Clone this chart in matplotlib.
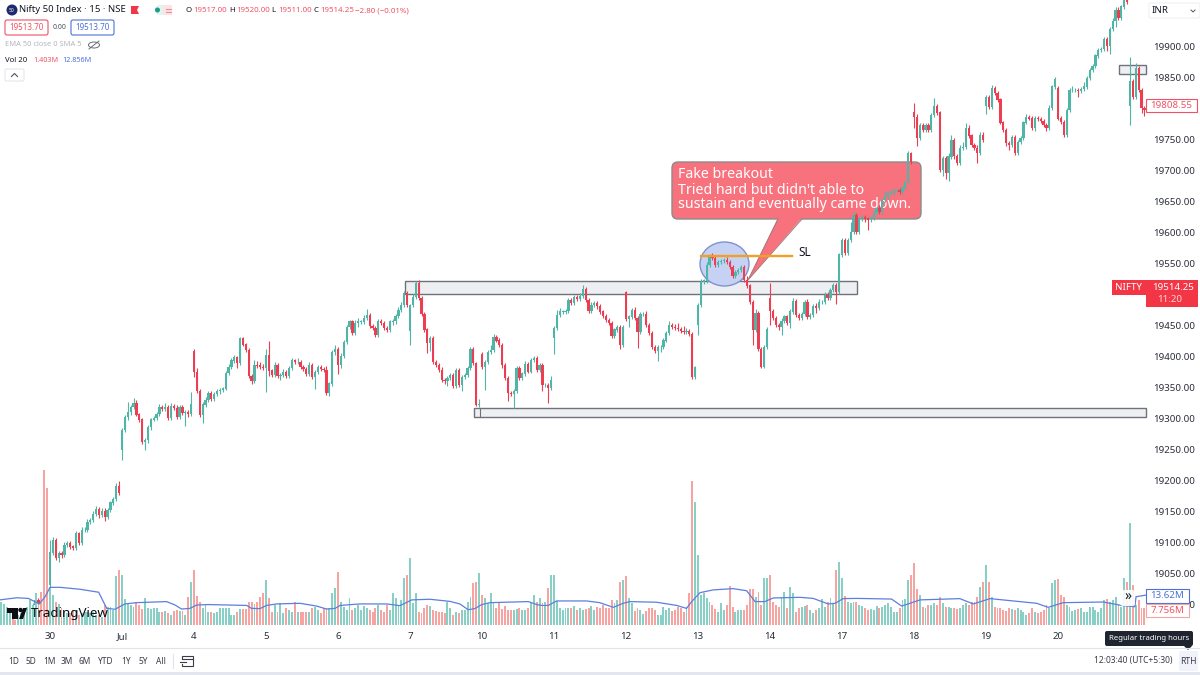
import numpy as np
import matplotlib
matplotlib.use("Agg")
import matplotlib.pyplot as plt
from matplotlib.patches import Rectangle, FancyBboxPatch, Ellipse, Polygon, Circle

plt.rcParams['font.family'] = ['Noto Sans', 'DejaVu Sans']

# 15 min bars, one line per session
closes = [
    18976, 18989, 19000, 19008, 19003, 18995, 18989, 18976,
    19085, 19105, 19076, 19084, 19081, 19097, 19100, 19094, 19092, 19115, 19100, 19121, 19121, 19134, 19137, 19147, 19155, 19145, 19152, 19142, 19153, 19165, 19171, 19192, 19181,
    19282, 19303, 19311, 19319, 19326, 19307, 19299, 19263, 19266, 19287, 19299, 19302, 19308, 19319, 19316, 19319, 19302, 19321, 19318, 19303, 19319, 19310, 19311, 19308, 19323,
    19376, 19345, 19307, 19323, 19331, 19342, 19332, 19340, 19345, 19347, 19349, 19374, 19384, 19394, 19399, 19390, 19431, 19420, 19411, 19369, 19361, 19387, 19386, 19384, 19382,
    19403, 19378, 19371, 19387, 19369, 19371, 19376, 19369, 19382, 19394, 19392, 19392, 19384, 19381, 19373, 19387, 19368, 19376, 19384, 19381, 19379, 19342, 19357, 19408, 19413,
    19387, 19402, 19424, 19448, 19457, 19439, 19455, 19457, 19457, 19463, 19468, 19450, 19447, 19436, 19458, 19455, 19447, 19444, 19457, 19458, 19466, 19476, 19484, 19503, 19484,
    19484, 19497, 19519, 19495, 19469, 19444, 19423, 19431, 19392, 19387, 19379, 19363, 19361, 19366, 19371, 19353, 19379, 19355, 19368, 19371, 19382, 19413, 19390, 19323, 19324,
    19384, 19392, 19408, 19411, 19432, 19427, 19419, 19387, 19366, 19342, 19340, 19345, 19382, 19366, 19373, 19389, 19377, 19395, 19398, 19379, 19387, 19355, 19355, 19350, 19363,
    19447, 19468, 19473, 19473, 19474, 19492, 19487, 19497, 19494, 19498, 19510, 19492, 19474, 19484, 19487, 19482, 19473, 19466, 19460, 19455, 19434, 19444, 19448, 19419, 19448,
    19461, 19465, 19476, 19463, 19440, 19469, 19469, 19452, 19439, 19416, 19410, 19416, 19416, 19427, 19439, 19452, 19448, 19447, 19445, 19442, 19440, 19442, 19437, 19368, 19384,
    19484, 19521, 19523, 19548, 19561, 19560, 19548, 19553, 19555, 19556, 19553, 19545, 19531, 19537, 19540, 19545, 19524, 19515, 19489, 19444, 19471, 19413, 19385, 19416, 19444,
    19474, 19463, 19452, 19448, 19458, 19465, 19455, 19473, 19490, 19468, 19463, 19469, 19489, 19465, 19468, 19482, 19479, 19489, 19489, 19500, 19495, 19508, 19516, 19505, 19565,
    19589, 19568, 19589, 19602, 19629, 19602, 19623, 19626, 19623, 19621, 19624, 19632, 19640, 19634, 19653, 19658, 19665, 19665, 19669, 19669, 19666, 19673, 19682, 19729, 19715,
    19787, 19753, 19774, 19766, 19774, 19766, 19790, 19805, 19794, 19702, 19721, 19697, 19723, 19750, 19724, 19713, 19737, 19739, 19769, 19757, 19742, 19737, 19729, 19758, 19750,
    19819, 19803, 19834, 19826, 19815, 19778, 19766, 19745, 19742, 19755, 19729, 19747, 19753, 19778, 19787, 19785, 19769, 19785, 19784, 19781, 19774, 19769, 19802, 19836, 19848,
    19785, 19779, 19758, 19798, 19831, 19831, 19831, 19829, 19832, 19836, 19850, 19863, 19869, 19886, 19895, 19897, 19913, 19902, 19929, 19942, 19960, 19947, 19965, 19984, 19973,
    19845, 19819, 19866, 19831, 19802, 19799,
]
# open of the first bar of each session, the others open at the previous close
session_opens = [19032, 19250, 19410, 19382, 19413, 19442, 19405, 19431, 19505, 19452, 19494, 19565, 19795, 19806, 19834, 19805]

wick_up = [
    3, 3, 3, 3, 3, 3, 3, 3,
    20, 5, 3, 3, 3, 5, 4, 3, 2, 5, 3, 4, 4, 4, 4, 4, 4, 3, 4, 4, 4, 3, 3, 5, 8,
    3, 4, 16, 4, 8, 5, 3, 2, 4, 3, 3, 3, 4, 5, 4, 6, 4, 4, 3, 5, 3, 3, 3, 3, 20,
    3, 6, 3, 4, 4, 3, 3, 3, 3, 3, 3, 3, 4, 5, 4, 3, 2, 2, 3, 3, 3, 8, 6, 6, 5,
    10, 23, 3, 5, 3, 3, 4, 3, 3, 5, 3, 6, 3, 3, 3, 5, 3, 3, 3, 3, 3, 6, 3, 3, 6,
    3, 5, 4, 4, 3, 3, 5, 6, 3, 4, 10, 3, 3, 3, 3, 3, 3, 3, 3, 3, 3, 4, 5, 4, 3,
    2, 4, 3, 5, 3, 3, 3, 3, 3, 3, 3, 5, 3, 3, 3, 3, 3, 3, 3, 3, 3, 3, 3, 2, 8,
    3, 3, 3, 8, 5, 3, 4, 3, 3, 3, 3, 3, 3, 4, 3, 5, 3, 3, 4, 3, 3, 3, 3, 3, 6,
    3, 8, 6, 3, 3, 3, 3, 3, 3, 5, 6, 3, 3, 4, 3, 3, 4, 3, 3, 3, 3, 3, 4, 3, 3,
    2, 3, 3, 4, 3, 3, 3, 5, 3, 3, 3, 3, 3, 3, 3, 6, 3, 5, 8, 3, 8, 4, 3, 3, 2,
    3, 4, 3, 5, 5, 6, 4, 4, 3, 4, 6, 3, 3, 3, 3, 3, 3, 6, 3, 3, 6, 3, 3, 3, 4,
    26, 3, 3, 3, 5, 3, 3, 4, 5, 3, 3, 3, 3, 5, 3, 3, 5, 4, 3, 5, 5, 3, 3, 3, 3,
    3, 3, 3, 16, 5, 3, 3, 3, 3, 3, 3, 3, 3, 5, 3, 10, 3, 5, 3, 3, 3, 3, 3, 3, 2,
    14, 5, 3, 4, 3, 3, 3, 13, 3, 3, 3, 3, 6, 8, 3, 3, 5, 8, 8, 5, 3, 3, 5, 5, 5,
    3, 3, 5, 3, 3, 3, 3, 3, 3, 3, 3, 3, 3, 3, 5, 3, 3, 3, 3, 3, 3, 3, 5, 3, 4,
    3, 3, 3, 3, 3, 6, 3, 3, 3, 8, 4, 3, 3, 3, 3, 3, 3, 3, 3, 4, 4, 4, 3, 3, 3,
    39, 3, 8, 3, 3, 3,
]
wick_dn = [
    3, 3, 3, 3, 3, 3, 3, 3,
    8, 4, 3, 6, 5, 4, 3, 3, 3, 4, 4, 3, 3, 3, 3, 3, 3, 4, 3, 6, 3, 3, 3, 3, 3,
    16, 3, 4, 5, 3, 2, 4, 3, 13, 4, 4, 3, 3, 3, 3, 3, 4, 3, 3, 3, 3, 3, 22, 4, 3,
    8, 3, 3, 13, 3, 3, 3, 3, 3, 4, 3, 3, 3, 3, 3, 8, 3, 3, 3, 3, 5, 3, 3, 3, 3,
    39, 8, 3, 3, 3, 6, 3, 3, 3, 3, 3, 3, 3, 3, 3, 3, 3, 20, 3, 3, 3, 3, 5, 3, 4,
    15, 4, 3, 3, 3, 3, 3, 6, 3, 3, 3, 3, 3, 3, 3, 3, 3, 3, 3, 5, 4, 3, 3, 3, 3,
    22, 3, 3, 3, 3, 3, 16, 13, 3, 3, 4, 3, 4, 8, 3, 3, 3, 3, 10, 3, 3, 3, 3, 2, 3,
    3, 38, 3, 3, 3, 3, 3, 4, 3, 13, 3, 22, 3, 3, 3, 3, 3, 3, 3, 3, 4, 10, 3, 24, 3,
    26, 3, 3, 3, 3, 3, 3, 3, 3, 3, 3, 3, 3, 3, 3, 4, 3, 3, 3, 3, 4, 3, 3, 6, 3,
    3, 13, 4, 3, 25, 3, 3, 3, 3, 3, 3, 16, 8, 3, 3, 3, 3, 3, 3, 3, 3, 3, 3, 3, 3,
    16, 3, 3, 3, 3, 3, 3, 3, 3, 3, 3, 3, 3, 3, 3, 3, 3, 3, 4, 24, 3, 3, 3, 3, 3,
    22, 3, 3, 5, 13, 3, 3, 8, 3, 3, 3, 3, 3, 3, 3, 3, 8, 3, 3, 3, 3, 3, 3, 20, 3,
    3, 3, 3, 3, 3, 3, 3, 3, 5, 16, 3, 3, 3, 3, 3, 3, 3, 3, 3, 3, 3, 3, 3, 3, 3,
    18, 13, 3, 3, 3, 3, 3, 3, 3, 3, 10, 10, 13, 3, 5, 3, 3, 3, 3, 3, 3, 3, 16, 3, 3,
    14, 3, 3, 3, 3, 3, 3, 5, 8, 3, 3, 3, 3, 3, 3, 3, 3, 5, 3, 3, 3, 5, 3, 3, 3,
    3, 3, 3, 3, 3, 3, 3, 10, 3, 3, 3, 3, 3, 3, 3, 3, 3, 8, 13, 3, 10, 3, 3, 3, 3,
    31, 3, 3, 3, 8, 10,
]

# volume in millions, first line is what sits left of the 30 June session
volumes = [
    11, 10, 8.6, 7.8, 3.1, 2.4, 4.7, 5.5, 7, 8.6, 11.8, 9.4, 15, 10, 15.7, 73, 64.4,
    18, 14, 11, 10, 7.9, 6.3, 5.5, 5.5, 7, 7, 4.7, 5.5, 6.3, 6.3, 5.5, 6, 4.7, 4.7, 3.9, 9.4, 8.6, 8.6, 7, 23, 26,
    23.5, 12, 10, 9.4, 8.6, 10.7, 9.4, 7.5, 12.6, 7.8, 7.5, 7.8, 8.2, 6.3, 6, 6.6, 5.7, 4.7, 6.6, 7, 6.6, 6.6, 4.7, 13.3, 20.4,
    26, 13.8, 11, 7.9, 9.4, 6.3, 6, 5.7, 6, 7.9, 8.2, 8.2, 7.9, 4.7, 4.7, 6.3, 7.5, 7.5, 7.5, 11, 11, 9.7, 11, 13.3, 15.2,
    21, 12.6, 6.3, 9.4, 6, 10.2, 5.5, 7.9, 7, 6.3, 11, 6, 6, 6, 6, 6.3, 7.9, 8.6, 7, 5.7, 7.9, 7.9, 7.9, 15, 17.3,
    24.8, 11, 8.6, 7, 12.6, 7, 7.9, 9.4, 7, 9, 7.9, 7, 6.3, 7.9, 9.4, 7, 6.3, 9.4, 7, 15, 12.6, 9.4, 11.8, 22, 23.6,
    31.4, 10.2, 15, 6.3, 5.5, 7.9, 9.4, 9, 7, 6.6, 6.3, 6.3, 5.5, 11, 7.9, 4.7, 6.3, 5.5, 7, 7, 11, 13.3, 19.6, 20.4, 24.3,
    14, 12.9, 10.2, 15, 10.2, 7.9, 10.2, 7.5, 9, 7, 7, 7, 7.5, 7.9, 7, 7, 7.9, 10.2, 14, 11, 12.6, 10.2, 11, 17.3, 23.5,
    23.5, 11.3, 8.2, 7.2, 8.2, 8.2, 8.2, 9, 7, 7.9, 7, 7.5, 7.9, 9, 7.2, 8.6, 7.9, 9.4, 8.2, 7.9, 11.8, 10.2, 11.8, 20.4, 21.2,
    22.8, 12.6, 10.2, 6.6, 7.9, 7, 5, 6.6, 7.9, 8.2, 7, 4.7, 4.7, 8.6, 7, 7.9, 6.6, 7, 8.6, 7.9, 6.3, 8.6, 15, 67.5, 58,
    32.7, 14, 15, 12.6, 11, 9.4, 7.5, 6.3, 10.2, 7, 9.4, 18.5, 8.6, 6, 7, 7, 7, 9.4, 17, 17, 13.3, 15.7, 9.4, 22, 22,
    23.5, 11, 9.4, 8.6, 13.3, 15.4, 7.9, 18, 15, 6.3, 7.9, 8.6, 9, 9.4, 7, 5.5, 7, 7.9, 12.2, 8.6, 10.7, 12.6, 10.2, 26, 29.4,
    22, 13.8, 10.7, 10.2, 10.7, 11, 9.4, 9, 7.9, 7, 7.5, 7, 9, 7.9, 8.6, 9.4, 10.2, 8.6, 6.3, 6, 7.9, 11.8, 12.2, 21.2, 23.5,
    29, 17, 14, 8.6, 7.9, 9.4, 9.4, 10.2, 9.4, 13.3, 10.2, 8.6, 8.6, 7.9, 7.9, 7.5, 7.9, 9.4, 10.2, 9.4, 11, 11, 13.3, 18, 20.4,
    28, 20, 13.3, 8.6, 7.9, 7.9, 7, 6.6, 7.9, 7.5, 7, 7.9, 7, 6.3, 4.7, 5.5, 7.9, 6.3, 5.5, 6.3, 7, 9.4, 7.9, 19.6, 21.2,
    21.7, 14, 13.3, 9.4, 8.6, 6.6, 7.2, 7.5, 7.9, 6.3, 6.3, 8.6, 8.6, 7, 6.3, 7.9, 11.8, 12.2, 11, 11.8, 13.3, 9.4, 8.6, 22, 20.4,
    48, 19, 9.4, 11.8, 7.9, 7.756,
]
# up/down of the volume bars with no candle in view
early_vol_up = [1, 1, 1, 1, 0, 0, 1, 1, 1]

vol_ma_bars = [-17.4, -11.6, -7.5, -3.7, -1.7, 0, 3.5, 10.4, 16.9, 19.7, 22.6, 26, 30, 40.5, 43.4, 45.7, 48.6, 50.9, 55, 68.3, 70, 72.9, 75.2, 78.7, 86.8, 92.6, 96, 99, 100.7, 107.6, 116.9, 121.5, 125.6, 131.9, 138.9, 142.3, 145.2, 147.5, 149.9, 152.8, 166.1, 169, 170.7, 173, 175.9, 186.3, 190.9, 195.6, 199, 201.4, 210.6, 217.6, 221, 222.8, 225.7, 230.3, 237.2, 241.9, 244.8, 248.2, 251.1, 260.4, 265, 270.2, 272.6, 275.4, 280.1, 292.2, 295.7, 298.6, 302.1, 315.9, 320.6, 326.4, 342.6, 346.6, 351.8, 365.7, 372.1, 376.7, 377.1, 380.8]
vol_ma = [11.8, 12.8, 12.5, 9.9, 13.3, 17.7, 17.7, 16.8, 15.4, 7.8, 7.4, 9.9, 10.5, 11, 9.4, 7.5, 7.8, 9.4, 9.6, 9.2, 7.8, 7.7, 9.2, 9.9, 10.2, 8.9, 7.5, 7.8, 9.2, 9.9, 9.9, 9.1, 11.8, 12.1, 11.1, 9.9, 7.2, 7.7, 9.6, 10.5, 11, 9.6, 9.2, 9.2, 11.3, 11.3, 10.5, 8.3, 10.2, 11, 10.7, 9.2, 7.8, 11, 15.2, 16.5, 17.1, 16.1, 11, 11, 12.7, 13, 12.5, 9.9, 10.2, 12.4, 12.5, 12.2, 8.9, 10.2, 11.8, 12.4, 9.9, 12.4, 10.2, 8.3, 10.5, 10.8, 9.2, 8.6, 13.3, 14.1]

day_labels = ['30', 'Jul', '4', '5', '6', '7', '10', '11', '12', '13', '14', '17', '18', '19', '20']
price_ticks = list(range(19000, 19901, 50))
ranges = ['1D', '5D', '1M', '3M', '6M', 'YTD', '1Y', '5Y', 'All']

TEAL, RED = '#4fb5a6', '#ee3d50'
VTEAL, VRED = '#88d0c5', '#f7a3a2'
BLUE = '#5c7fdc'
BAR_PX = 2.88
BARS_PER_DAY = 25
EARLY = 8


def to_ui(a):
    a.set_xlim(0, 1200)
    a.set_ylim(675, 0)
    a.axis('off')
    return a


fig = plt.figure(figsize=(12, 6.75), dpi=100, facecolor='white')
under = to_ui(fig.add_axes([0, 0, 1, 1], zorder=0))
ax = fig.add_axes([0, 50 / 675, 1146 / 1200, 625 / 675], zorder=1)
ax.patch.set_alpha(0)
ui = to_ui(fig.add_axes([0, 0, 1, 1], zorder=3))

# candles
c = np.array(closes, dtype=float)
o = np.r_[c[0], c[:-1]]
for d, first in enumerate(session_opens):
    o[EARLY + d * BARS_PER_DAY] = first
o[0] = 18965
hi = np.maximum(o, c) + np.array(wick_up)
lo = np.minimum(o, c) - np.array(wick_dn)
bars = np.arange(len(c)) - EARLY
up = c >= o
cols = np.where(up, TEAL, RED)

ax.set_xlim(-50 / BAR_PX, (1146 - 50) / BAR_PX)
ax.set_ylim(19975.8 - 625 * 1.6129, 19975.8)
ax.vlines(bars, lo, hi, colors=cols, lw=0.8, zorder=3)
ax.bar(bars, np.abs(c - o) + 0.8, bottom=np.minimum(o, c) - 0.4, width=0.78, color=cols, lw=0, zorder=4)

# volume pane shares the same bars
vax = ax.twinx()
vax.set_ylim(0, 625 * 0.47)
vax.axis('off')
vbars = np.arange(len(volumes)) - (len(volumes) - len(c) + EARLY)
vup = np.r_[np.array(early_vol_up, dtype=bool), up]
vax.bar(vbars, volumes, width=0.66, color=np.where(vup, VTEAL, VRED), lw=0, zorder=1)
vax.plot(vol_ma_bars, vol_ma, color=BLUE, lw=0.9, zorder=2)

# twinx puts the price ticks back on the left
ax.yaxis.tick_right()
ax.set_yticks(price_ticks)
ax.set_yticklabels([f'{p}.00' for p in price_ticks], fontsize=7, color='#2a2e39')
ax.set_xticks(np.arange(len(day_labels)) * BARS_PER_DAY)
ax.set_xticklabels(day_labels, fontsize=7, color='#2a2e39')
ax.get_xticklabels()[1].set_fontweight('bold')
ax.tick_params(axis='x', length=0, pad=5)
ax.tick_params(axis='y', length=0, pad=5.5)
for s in ax.spines.values():
    s.set_visible(False)

# drawings below the candles
for x0, y0, x1, y1 in [(405, 281, 857, 294), (474, 408, 1146, 417), (1119, 65, 1146, 74)]:
    under.add_patch(Rectangle((x0, y0), x1 - x0, y1 - y0, fc='#eeeff3', ec='#6f727c', lw=1))
under.plot([480, 480], [408, 417], color='#6f727c', lw=0.8)
under.add_patch(Ellipse((724.5, 264), 49, 44, fc='#c6d2f3', ec='#7f92cf', lw=1))

PINK = '#f8727e'
under.add_patch(FancyBboxPatch((676, 166), 241, 49, boxstyle='round,pad=4,rounding_size=6', fc=PINK, ec='#8b8b8b', lw=1))
under.add_patch(Polygon([(778, 218), (802, 218), (748, 280)], fc=PINK, ec='none'))
under.plot([778, 748, 802], [219, 280, 219], color='#a0787c', lw=0.7)
for txt, y in [('Fake breakout', 175), ("Tried hard but didn't able to", 190), ('sustain and eventually came down.', 205)]:
    under.text(678, y, txt, color='white', fontsize=10.2, va='center', ha='left')

# drawings over the candles
ui.plot([701, 792], [256, 256], color='#f2a024', lw=1.7)
ui.text(798, 253, 'SL', fontsize=8.5, va='center', color='#131722')

GREY = '#131722'
RED_TXT = '#ef5264'
BLUE_TXT = '#4c72d9'
# header
ui.add_patch(Circle((12, 10), 5.5, fc='#1e2a6e', ec='none'))
ui.text(12, 10.3, '50', fontsize=3.6, color='white', ha='center', va='center')
ui.text(19, 10, 'Nifty 50 Index · 15 · NSE', fontsize=6.9, color=GREY, va='center')
ui.add_patch(Polygon([(131, 6), (139, 6), (137, 10), (139, 14), (131, 14)], fc='#f23645', ec='none'))
ui.add_patch(FancyBboxPatch((155, 5), 16, 10, boxstyle='round,pad=0,rounding_size=5', fc='#e3f3f0', ec='none'))
ui.add_patch(Rectangle((163, 5), 9, 10, fc='#fbe3e6', ec='none'))
ui.add_patch(Circle((157.5, 10), 2.5, fc='#1b9e85', ec='none'))
ui.plot([166, 171], [9, 9], color='#f08a9a', lw=0.8)
ui.plot([166, 171], [11.5, 11.5], color='#f08a9a', lw=0.8)
ohlc = [('O', '19517.00', 186), ('H', '19520.00', 229), ('L', '19511.00', 271), ('C', '19514.25', 313)]
for lab, val, x in ohlc:
    ui.text(x, 11, lab, fontsize=5.6, color=GREY, va='center')
    ui.text(x + 7, 11, val, fontsize=5.7, color=RED_TXT, va='center')
ui.text(355, 11, '−2.80 (−0.01%)', fontsize=5.7, color=RED_TXT, va='center')

for x0, x1, col, val in [(5, 48, RED_TXT, '19513.70'), (71, 114, BLUE_TXT, '19513.70')]:
    ui.add_patch(FancyBboxPatch((x0, 20), x1 - x0, 15, boxstyle='round,pad=0,rounding_size=2', fc='white', ec=col, lw=0.8))
    ui.text((x0 + x1) / 2, 27.8, val, fontsize=5.8, color=col, ha='center', va='center')
ui.text(59.5, 27.5, '0.00', fontsize=5, color='#50535e', ha='center', va='center')
ui.text(5, 45, 'EMA 50 close 0 SMA 5', fontsize=5.4, color='#b2b5be', va='center')
ui.add_patch(Ellipse((94, 45), 11, 6, fc='none', ec='#6a6d78', lw=0.7))
ui.plot([89, 99], [49, 41], color='#6a6d78', lw=0.7)
ui.text(5, 60, 'Vol 20', fontsize=5.6, color=GREY, va='center')
ui.text(33, 60, '1.403M', fontsize=5.2, color=RED_TXT, va='center')
ui.text(62, 60, '12.856M', fontsize=5.2, color=BLUE_TXT, va='center')
ui.add_patch(FancyBboxPatch((5, 69), 19, 12, boxstyle='round,pad=0,rounding_size=1.5', fc='white', ec='#e0e3eb', lw=0.7))
ui.plot([11.5, 14.5, 17.5], [76.5, 73.5, 76.5], color='#50535e', lw=0.8)

# right scale boxes
ui.add_patch(FancyBboxPatch((1149, 3), 51, 15, boxstyle='round,pad=0,rounding_size=2', fc='white', ec='#eceef2', lw=0.7))
ui.text(1152, 10.5, 'INR', fontsize=7, color=GREY, va='center')
ui.plot([1191, 1193, 1195], [10, 12, 10], color='#50535e', lw=0.7)
ui.add_patch(Rectangle((1146, 99), 51, 13, fc='white', ec=RED_TXT, lw=0.8))
ui.text(1171.5, 105.5, '19808.55', fontsize=7, color=RED_TXT, ha='center', va='center')
ui.add_patch(Rectangle((1112, 280), 34, 15, fc='#f23645', ec='none'))
ui.text(1129, 287.5, 'NIFTY', fontsize=7, color='white', ha='center', va='center')
ui.add_patch(Rectangle((1146, 280), 52, 27, fc='#f23645', ec='none'))
ui.text(1173, 287.5, '19514.25', fontsize=7, color='white', ha='center', va='center', fontweight='medium')
ui.text(1157, 299.5, '11:20', fontsize=7, color='#fbd5d9', va='center')
ui.add_patch(Rectangle((1146, 589), 43, 14, fc='white', ec=BLUE_TXT, lw=0.8))
ui.text(1167.5, 596, '13.62M', fontsize=7, color=BLUE_TXT, ha='center', va='center')
ui.add_patch(Rectangle((1146, 604), 43, 13, fc='white', ec='#f4a6a6', lw=0.8))
ui.text(1167.5, 610.5, '7.756M', fontsize=7, color=RED_TXT, ha='center', va='center')
ui.add_patch(FancyBboxPatch((1120, 590), 15, 16, boxstyle='round,pad=0,rounding_size=3', fc='white', ec='none', alpha=0.9))
ui.text(1128, 597.5, '»', fontsize=10, color='#131722', ha='center', va='center')

# watermark
ui.add_patch(Polygon([(7, 608), (18, 608), (18, 619), (12, 619), (12, 613), (7, 613)], fc='#0c0e15', ec='none'))
ui.add_patch(Circle((20.5, 610), 2.2, fc='#0c0e15', ec='none'))
ui.add_patch(Polygon([(19, 619), (23, 608), (27, 608), (23, 619)], fc='#0c0e15', ec='none'))
ui.text(31, 613.5, 'TradingView', fontsize=9.6, color='#0c0e15', va='center', fontweight='semibold')

# bottom bar
ui.plot([0, 1200], [648, 648], color='#e0e3eb', lw=0.8)
ui.add_patch(Rectangle((0, 672), 1200, 3, fc='#e3e6ee', ec='none'))
for lab, x in zip(ranges, [14, 31, 49, 67, 85, 106, 126, 143, 161]):
    ui.text(x, 661, lab, fontsize=6, color='#3a3d48', ha='center', va='center')
ui.plot([173, 173], [654, 668], color='#e0e3eb', lw=0.8)
ui.add_patch(Rectangle((182, 656), 11, 10, fc='none', ec='#3a3d48', lw=0.8))
ui.plot([182, 193], [659, 659], color='#3a3d48', lw=0.8)
ui.add_patch(Rectangle((178, 659.5), 6, 4, fc='white', ec='none'))
ui.plot([180, 186], [662, 662], color='#3a3d48', lw=0.8)
ui.text(1173, 661, '12:03:40 (UTC+5:30)', fontsize=6.1, color='#3a3d48', ha='right', va='center')
ui.add_patch(FancyBboxPatch((1179, 651), 19, 20, boxstyle='round,pad=0,rounding_size=1', fc='#f0f3fa', ec='none'))
ui.text(1188.5, 661, 'RTH', fontsize=6.2, color='#3a3d48', ha='center', va='center')
ui.add_patch(FancyBboxPatch((1105, 631), 88, 15, boxstyle='round,pad=0,rounding_size=2', fc='#1f2430', ec='none'))
ui.add_patch(Polygon([(1184, 646), (1192, 646), (1188, 650)], fc='#1f2430', ec='none'))
ui.text(1149, 638.5, 'Regular trading hours', fontsize=5.6, color='white', ha='center', va='center')

fig.savefig('out.png', dpi=100)
